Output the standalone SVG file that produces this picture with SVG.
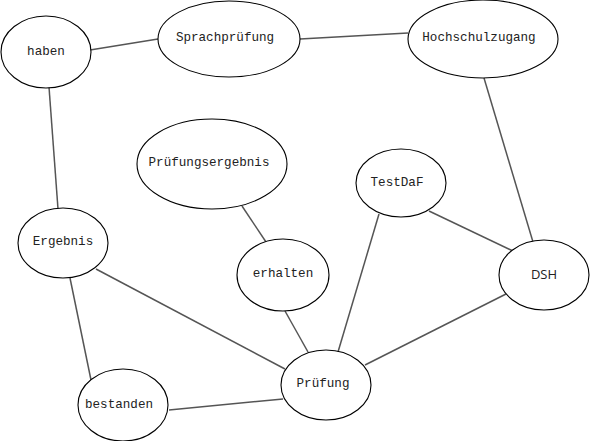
<svg xmlns="http://www.w3.org/2000/svg" width="590" height="441" viewBox="0 0 590 441">
<style>
.n ellipse{fill:#fff;stroke:#000;stroke-width:1.1}
.n text{font-family:"Liberation Mono","DejaVu Sans Mono",monospace;font-size:12.6px;fill:#222;text-anchor:middle;dominant-baseline:central}
#dsh text{font-family:"Open Sans","Liberation Sans",sans-serif;font-size:13px}
.e line{stroke:#555;stroke-width:1.5}
</style>
<rect width="590" height="441" fill="#fff"/>
<g class="e" id="edges">
<line x1="90" y1="50" x2="158" y2="39"/>
<line x1="300" y1="39" x2="408" y2="33"/>
<line x1="49" y1="87" x2="58" y2="209"/>
<line x1="70" y1="278" x2="91" y2="380"/>
<line x1="96" y1="269" x2="285" y2="369"/>
<line x1="169" y1="410" x2="283" y2="399"/>
<line x1="242" y1="206" x2="266" y2="242"/>
<line x1="285" y1="311" x2="308" y2="352"/>
<line x1="379" y1="214" x2="338" y2="352"/>
<line x1="429" y1="211" x2="513" y2="251"/>
<line x1="484" y1="78" x2="533" y2="242"/>
<line x1="506" y1="294" x2="365" y2="365"/>
</g>
<g class="n" id="haben"><ellipse cx="46" cy="52" rx="45" ry="36"/><text x="46" y="52">haben</text></g>
<g class="n" id="sprachpruefung"><ellipse cx="229" cy="39" rx="71" ry="38"/><text x="225" y="38">Sprachprüfung</text></g>
<g class="n" id="hochschulzugang"><ellipse cx="483" cy="39" rx="75" ry="39"/><text x="479" y="38">Hochschulzugang</text></g>
<g class="n" id="pruefungsergebnis"><ellipse cx="212" cy="164" rx="75" ry="45"/><text x="209" y="163">Prüfungsergebnis</text></g>
<g class="n" id="testdaf"><ellipse cx="401" cy="183" rx="45" ry="34"/><text x="397" y="183">TestDaF</text></g>
<g class="n" id="ergebnis"><ellipse cx="63" cy="243" rx="45" ry="35"/><text x="63" y="242">Ergebnis</text></g>
<g class="n" id="erhalten"><ellipse cx="283" cy="275" rx="46" ry="36"/><text x="283" y="274">erhalten</text></g>
<g class="n" id="dsh"><ellipse cx="544" cy="275" rx="45" ry="35"/><text x="544" y="274">DSH</text></g>
<g class="n" id="pruefung"><ellipse cx="326" cy="385" rx="45" ry="35"/><text x="323" y="384">Prüfung</text></g>
<g class="n" id="bestanden"><ellipse cx="123" cy="405" rx="45" ry="36"/><text x="119" y="405">bestanden</text></g>
</svg>
